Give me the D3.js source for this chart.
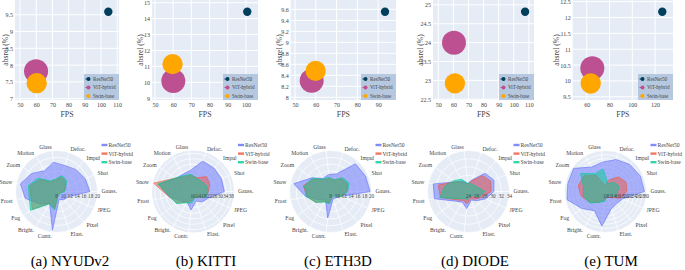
<!DOCTYPE html>
<html>
<head>
<meta charset="utf-8">
<script src="https://cdn.jsdelivr.net/npm/d3@7"></script>
<style>
  body { margin: 0; background: #fff; }
  svg { display: block; font-family: "Liberation Serif", "Times New Roman", serif; }
</style>
</head>
<body>
<svg id="fig" width="685" height="270"></svg>
<script>
// ---- data ----
const models = ["ResNet50", "ViT-hybrid", "Swin-base"];
const captions = ["(a) NYUDv2", "(b) KITTI", "(c) ETH3D", "(d) DIODE", "(e) TUM"];
const corruptions = ["Gauss.", "Shot", "Impul", "Defoc.", "Glass", "Motion", "Zoom",
  "Snow", "Frost", "Fog", "Bright.", "Contr.", "Elast.", "Pixel", "JPEG"];

// model size (M params) -> bubble area
const modelSize = [15, 123, 88];

// clean FPS / absrel per dataset, order = models
const fpsNYU = [104.5, 59.9, 60.3],  absNYU = [9.59, 7.82, 7.46];
const fpsKITTI = [100.7, 60.1, 59.7], absKITTI = [14.43, 10.08, 11.14];
const fpsETH = [93.3, 58.0, 59.9],    absETH = [9.556, 8.30, 8.48];
const fpsDIODE = [107.5, 60.4, 61.0], absDIODE = [24.82, 24.0, 22.92];
const fpsTUM = [126.3, 64.9, 63.5],   absTUM = [12.18, 10.40, 9.92];

// absrel under each corruption, rows = models, columns = corruptions
const radarNYU = [
  [17.8, 17.2, 16.6, 16.0, 16.6, 15.0, 17.0, 18.8, 17.4, 14.2, 12.0, 19.4, 10.5, 11.2, 11.8],
  [10.2, 10.8, 12.0, 12.5, 11.4, 11.2, 14.0, 16.0, 15.6, 16.8, 12.0, 13.0, 9.3, 9.1, 9.1],
  [10.4, 11.0, 12.4, 12.9, 11.6, 11.6, 14.6, 16.4, 16.2, 17.4, 12.2, 13.4, 9.4, 9.2, 9.2]
];
const radarKITTI = [
  [33.0, 32.8, 33.0, 33.4, 25.8, 24.6, 26.0, 35.6, 28.0, 21.6, 18.8, 23.6, 17.4, 20.2, 22.2],
  [21.4, 23.5, 24.7, 20.5, 22.0, 22.6, 26.5, 39.4, 28.0, 24.4, 19.0, 16.6, 14.5, 16.0, 19.9],
  [21.1, 20.8, 19.6, 19.9, 22.6, 23.5, 26.5, 36.4, 27.4, 25.0, 19.6, 18.4, 14.5, 16.0, 20.5]
];
const radarETH = [
  [19.6, 19.2, 18.9, 13.4, 13.0, 12.4, 14.8, 19.0, 15.4, 12.2, 10.9, 15.8, 10.4, 10.4, 11.5],
  [12.8, 13.4, 13.0, 11.6, 11.8, 12.0, 14.2, 16.2, 15.0, 13.4, 11.4, 11.4, 9.7, 9.7, 11.4],
  [13.0, 14.0, 13.4, 11.6, 12.2, 12.2, 14.6, 15.8, 15.2, 13.4, 11.6, 11.6, 9.8, 9.8, 11.6]
];
const radarDIODE = [
  [30.2, 30.8, 30.0, 27.0, 26.0, 27.0, 28.0, 32.8, 32.5, 28.0, 27.0, 28.2, 26.2, 27.0, 28.5],
  [29.5, 30.0, 29.2, 26.8, 25.8, 26.5, 28.0, 31.5, 31.0, 27.5, 26.5, 27.0, 25.8, 26.5, 27.5],
  [28.0, 26.5, 26.0, 26.0, 26.0, 27.5, 28.5, 30.0, 31.2, 27.0, 26.0, 26.0, 25.0, 25.5, 27.0]
];
const radarTUM = [
  [29.0, 28.6, 27.8, 26.4, 24.4, 23.8, 29.2, 28.8, 29.2, 24.2, 20.8, 27.0, 19.0, 18.0, 19.0],
  [20.4, 21.0, 19.6, 16.0, 13.0, 19.0, 23.0, 23.6, 22.0, 19.0, 16.0, 14.0, 13.0, 14.0, 18.0],
  [16.0, 17.0, 16.0, 14.0, 21.0, 20.0, 25.0, 21.0, 21.0, 19.6, 16.0, 15.0, 12.4, 13.0, 16.0]
];

// tick labels
const xTicksNYU = [50, 60, 70, 80, 90, 100, 110];
const xTicksKITTI = [50, 60, 70, 80, 90, 100];
const xTicksETH = [50, 60, 70, 80, 90];
const xTicksDIODE = [50, 60, 70, 80, 90, 100, 110];
const xTicksTUM = [60, 80, 100, 120];
const yTicksNYU = [7, 7.5, 8, 8.5, 9, 9.5];
const yTicksKITTI = [9, 10, 11, 12, 13, 14, 15];
const yTicksETH = [8, 8.2, 8.4, 8.6, 8.8, 9, 9.2, 9.4, 9.6];
const yTicksDIODE = [22.5, 23, 23.5, 24, 24.5, 25];
const yTicksTUM = [9.5, 10, 10.5, 11, 11.5, 12, 12.5];
const rTicksNYU = [8, 10, 12, 14, 16, 18, 20];
const rTicksKITTI = [10, 14, 18, 22, 26, 30, 34, 38];
const rTicksETH = [8, 10, 12, 14, 16, 18, 20];
const rTicksDIODE = [24, 26, 28, 30, 32, 34];
const rTicksTUM = [10, 12, 14, 16, 18, 20, 22, 24, 26, 28, 30];

// ---- layout ----
const panels = [
  { fps: fpsNYU, abs: absNYU, radar: radarNYU, xt: xTicksNYU, yt: yTicksNYU, rt: rTicksNYU,
    left: 15, right: 119, xDom: [46.9, 111.1], yDom: [6.96, 9.94], yTitleX: 5, rDom: [8, 20], cx: 56.5, capX: 70 },
  { fps: fpsKITTI, abs: absKITTI, radar: radarKITTI, xt: xTicksKITTI, yt: yTicksKITTI, rt: rTicksKITTI,
    left: 152, right: 258, xDom: [48.4, 106.6], yDom: [8.89, 15.17], yTitleX: 140, rDom: [10, 40], cx: 193, capX: 206 },
  { fps: fpsETH, abs: absETH, radar: radarETH, xt: xTicksETH, yt: yTicksETH, rt: rTicksETH,
    left: 290.7, right: 396, xDom: [47.9, 98.6], yDom: [7.95, 9.77], yTitleX: 279, rDom: [8, 20], cx: 330.5, capX: 338 },
  { fps: fpsDIODE, abs: absDIODE, radar: radarDIODE, xt: xTicksDIODE, yt: yTicksDIODE, rt: rTicksDIODE,
    left: 433, right: 534, xDom: [46.5, 113.4], yDom: [22.48, 25.13], yTitleX: 420, rDom: [24, 34], cx: 468.5, capX: 475 },
  { fps: fpsTUM, abs: absTUM, radar: radarTUM, xt: xTicksTUM, yt: yTicksTUM, rt: rTicksTUM,
    left: 572.7, right: 673, xDom: [47.7, 135.7], yDom: [9.4, 12.55], yTitleX: 556, rDom: [10, 30], cx: 605.5, capX: 611 }
];

const plotTop = 0, plotBottom = 100;
const radarCy = 191.5, radarR = 41;
const bubbleColors = ["#003f5c", "#bc5090", "#ffa600"];
const radarColors = ["#636efa", "#ef553b", "#00cc96"];
const textColor = "#444";
const bg = "#e5ecf6";

const svg = d3.select("#fig");
const size = d3.scaleSqrt().domain([0, d3.max(modelSize)]).range([0, 12]);

function scatterPanel(p) {
  const g = svg.append("g");
  const x = d3.scaleLinear().domain(p.xDom).range([p.left, p.right]);
  const y = d3.scaleLinear().domain(p.yDom).range([plotBottom, plotTop]);

  g.append("rect")
    .attr("x", p.left).attr("y", plotTop)
    .attr("width", p.right - p.left).attr("height", plotBottom - plotTop)
    .attr("fill", bg);

  // grid
  g.selectAll("line.vx").data(p.xt).enter().append("line")
    .attr("x1", d => x(d)).attr("x2", d => x(d))
    .attr("y1", plotTop).attr("y2", plotBottom)
    .attr("stroke", "#fff").attr("stroke-width", 1);
  g.selectAll("line.hy").data(p.yt).enter().append("line")
    .attr("x1", p.left).attr("x2", p.right)
    .attr("y1", d => y(d)).attr("y2", d => y(d))
    .attr("stroke", "#fff").attr("stroke-width", 1);

  // axes labels
  const ax = g.append("g").attr("transform", `translate(0,${plotBottom})`)
    .call(d3.axisBottom(x).tickValues(p.xt).tickSize(0).tickPadding(3));
  const ay = g.append("g").attr("transform", `translate(${p.left},0)`)
    .call(d3.axisLeft(y).tickValues(p.yt).tickSize(0).tickPadding(2).tickFormat(d => String(d)));
  [ax, ay].forEach(a => {
    a.select(".domain").remove();
    a.selectAll("text").attr("font-size", 6).attr("fill", textColor)
      .attr("font-family", "Liberation Serif, Times New Roman, serif");
  });

  g.append("text")
    .attr("x", (p.left + p.right) / 2).attr("y", 116.5)
    .attr("text-anchor", "middle").attr("font-size", 7.8).attr("fill", textColor)
    .text("FPS");
  g.append("text")
    .attr("transform", `translate(${p.yTitleX + 2.8},${(plotTop + plotBottom) / 2}) rotate(-90)`)
    .attr("text-anchor", "middle").attr("font-size", 7.6).attr("fill", textColor)
    .text("absrel (%)");

  // bubbles
  g.selectAll("circle.b").data(models).enter().append("circle")
    .attr("cx", (d, i) => x(p.fps[i]))
    .attr("cy", (d, i) => y(p.abs[i]))
    .attr("r", (d, i) => size(modelSize[i]))
    .attr("fill", (d, i) => bubbleColors[i]);

  // legend
  const lw = 35, lh = 26, lx = p.right - lw, ly = 74;
  g.append("rect").attr("x", lx).attr("y", ly).attr("width", lw).attr("height", lh)
    .attr("fill", "#b0c4de").attr("fill-opacity", 0.9);
  models.forEach((m, i) => {
    const yy = ly + 5 + i * 8.5;
    g.append("line").attr("x1", lx + 1.5).attr("x2", lx + 5)
      .attr("y1", yy).attr("y2", yy).attr("stroke", bubbleColors[i]).attr("stroke-width", 1);
    g.append("circle").attr("cx", lx + 4.5).attr("cy", yy).attr("r", 2)
      .attr("fill", bubbleColors[i]);
    g.append("text").attr("x", lx + 9).attr("y", yy).attr("dy", "0.35em")
      .attr("font-size", 5.1).attr("fill", textColor).text(m);
  });
}

function radarPanel(p) {
  const g = svg.append("g");
  const cx = p.cx, cy = radarCy;
  const r = d3.scaleLinear().domain(p.rDom).range([0, radarR]);
  const n = corruptions.length;
  const ang = i => i * 2 * Math.PI / n;   // counter-clockwise from east

  g.append("circle").attr("cx", cx).attr("cy", cy).attr("r", radarR).attr("fill", bg);
  g.selectAll("circle.grid").data(p.rt).enter().append("circle")
    .attr("cx", cx).attr("cy", cy).attr("r", d => r(d))
    .attr("fill", "none").attr("stroke", "#fff").attr("stroke-width", 0.7);
  g.selectAll("line.spoke").data(corruptions).enter().append("line")
    .attr("x1", cx).attr("y1", cy)
    .attr("x2", (d, i) => cx + radarR * Math.cos(ang(i)))
    .attr("y2", (d, i) => cy - radarR * Math.sin(ang(i)))
    .attr("stroke", "#fff").attr("stroke-width", 0.7);

  const line = d3.lineRadial()
    .angle((d, i) => Math.PI / 2 - ang(i))
    .radius(d => r(d))
    .curve(d3.curveLinearClosed);
  p.radar.forEach((vals, k) => {
    g.append("path").attr("transform", `translate(${cx},${cy})`)
      .attr("d", line(vals))
      .attr("fill", radarColors[k]).attr("fill-opacity", 0.5)
      .attr("stroke", radarColors[k]).attr("stroke-width", 0.6);
  });

  // angular labels
  corruptions.forEach((c, i) => {
    const a = ang(i), cs = Math.cos(a), sn = Math.sin(a);
    const rr = radarR + 4;
    g.append("text")
      .attr("x", cx + rr * cs).attr("y", cy - rr * sn).attr("dy", "0.35em")
      .attr("text-anchor", cs > 0.05 ? "start" : cs < -0.05 ? "end" : "middle")
      .attr("font-size", 5.7).attr("fill", textColor).text(c);
  });

  // radial tick labels
  g.selectAll("text.rt").data(p.rt).enter().append("text")
    .attr("x", d => cx + r(d)).attr("y", cy + 4.5).attr("dy", "0.35em")
    .attr("text-anchor", "middle").attr("font-size", 5.2).attr("fill", textColor)
    .text(d => d);

  // legend
  models.forEach((m, i) => {
    const yy = cy - 46.5 + i * 8.6;
    g.append("rect").attr("x", cx + 45).attr("y", yy - 1.2).attr("width", 6).attr("height", 2.4)
      .attr("fill", radarColors[i]).attr("fill-opacity", 0.8);
    g.append("text").attr("x", cx + 52).attr("y", yy).attr("dy", "0.35em")
      .attr("font-size", 5.6).attr("fill", textColor).text(m);
  });
}

panels.forEach((p, i) => {
  scatterPanel(p);
  radarPanel(p);
  svg.append("text").attr("x", p.capX).attr("y", 266)
    .attr("text-anchor", "middle").attr("font-size", 15).attr("fill", "#000")
    .text(captions[i]);
});
</script>
</body>
</html>
